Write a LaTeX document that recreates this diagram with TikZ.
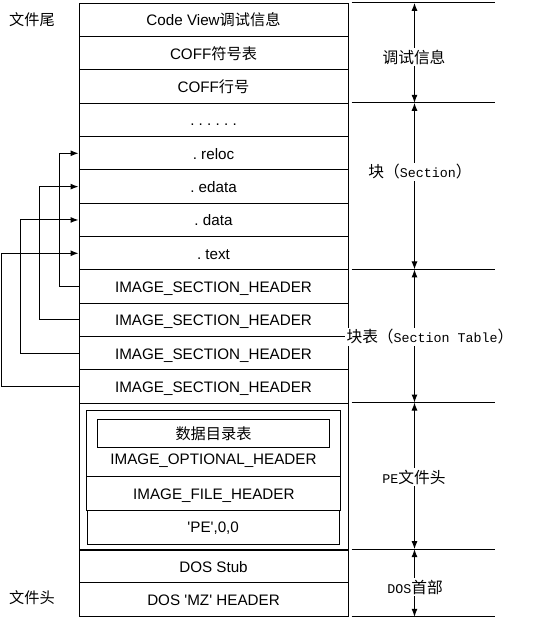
\documentclass[tikz,border=0pt]{standalone}
\usepackage{fontspec}
\setmainfont{Liberation Sans}
\newfontfamily\cjk{Noto Sans CJK SC}
\newfontfamily\mono{Liberation Mono}
\usetikzlibrary{arrows.meta}
\newcommand\zh[1]{{\cjk #1}}
\newcommand\lat[1]{{\mono\fontsize{10}{12}\selectfont #1}}
\tikzset{
  box/.style={draw, inner sep=0pt, text height=9pt, text depth=0.4pt},
  blk/.style={box, minimum width=201.75pt, minimum height=25pt},
  inbox/.style={box, minimum width=190.3pt, minimum height=25pt},
  lab/.style={fill=white, inner sep=1.5pt, font=\fontsize{11.8}{14}\selectfont},
  tip/.style={-{Latex[length=6pt,width=4.5pt]}},
  dbl/.style={{Latex[length=6pt,width=4.5pt]}-{Latex[length=6pt,width=4.5pt]}},
}

\begin{document}
\begin{tikzpicture}[x=0.75pt, y=-0.75pt, line width=0.75pt, font=\fontsize{11.4}{13.5}\selectfont]
            \useasboundingbox (0,0) rectangle (542,619);

            \foreach \t [count=\i] in {{Code View\zh{调试信息}}, {COFF\zh{符号表}}, {COFF\zh{行号}},
                {.~.~.~.~.~.}, {.~reloc}, {.~edata}, {.~data}, {.~text},
                IMAGE\_SECTION\_HEADER, IMAGE\_SECTION\_HEADER, IMAGE\_SECTION\_HEADER, IMAGE\_SECTION\_HEADER}
                \node[blk] (r\i) at (213.5,{3.3+33.33*(\i-0.5)}) {\t};

            \node[blk, minimum height=110.25pt] (pe) at (213.5,476.5) {};
            \node[inbox, minimum height=49.5pt] (opt) at (213.85,443.7) {};
            \node[box, minimum width=173.7pt, minimum height=21pt] (dir) at (213.5,433.3) {\zh{数据目录表}};
            \node (optname) at (213.5,461) {IMAGE\_OPTIONAL\_HEADER};
            \node[inbox] (file) at (213.85,493.35) {IMAGE\_FILE\_HEADER};
            \node[inbox, minimum width=189.2pt, minimum height=25.7pt] (sig) at (213.2,527.15) {\textquotesingle PE\textquotesingle,0,0};
            \node[blk] (stub) at (213.5,566.3) {DOS Stub};
            \node[blk] (mz) at (213.5,599.6) {DOS \textquotesingle MZ\textquotesingle\ HEADER};

            \node (tail) at (32,20) {\zh{文件尾}};
            \node (head) at (32,598) {\zh{文件头}};

            \foreach \s/\h [count=\k] in {5/9,6/10,7/11,8/12}
                \draw[tip] (r\h.west) -- ++({-19.3*\k},0) |- (r\s.west);

            \foreach \a [count=\k] in {r1.north east, r4.north east, r9.north east, pe.north east, stub.north east, mz.south east}
                \coordinate (m\k) at ([xshift=2.25pt]\a);
            \foreach \k in {1,...,6}
                \draw (m\k) -- ++(143,0);
            \foreach \k [evaluate=\k as \n using int(\k+1)] in {1,...,5}
                \draw[dbl] ([xshift=47.25pt]m\k) -- ([xshift=47.25pt]m\n);

            \node[lab] (l1) at (414,57) {\zh{调试信息}};
            \node[lab] (l2) at (420,172) {\zh{块（}\lat{Section}\zh{）}};
            \node[lab] (l3) at (430,337) {\zh{块表（}\lat{Section Table}\zh{）}};
            \node[lab] (l4) at (414,477) {\lat{PE}\zh{文件头}};
            \node[lab] (l5) at (415,587) {\lat{DOS}\zh{首部}};
        \end{tikzpicture}
\end{document}
